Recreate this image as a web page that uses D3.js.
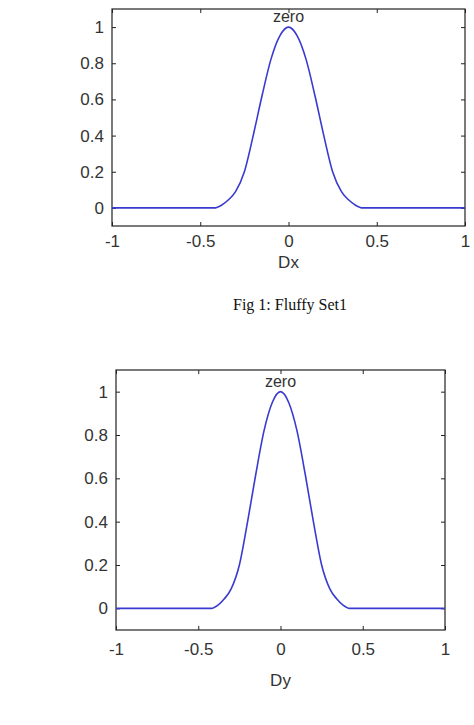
<!DOCTYPE html>
<html><head><meta charset="utf-8">
<script src="https://cdn.jsdelivr.net/npm/d3@7"></script>
<style>body{margin:0;background:#fff}</style>
</head><body>
<svg id="chart" width="474" height="725"></svg>
<script>
// membership function "zero" (same shape for Dx and Dy)
var xs = [-1, -0.42, -0.38, -0.34, -0.3, -0.25, -0.2, -0.15, -0.1, -0.05, 0, 0.05, 0.1, 0.15, 0.2, 0.25, 0.3, 0.34, 0.38, 0.42, 1];
var ys = [0, 0, 0.015, 0.045, 0.09, 0.2, 0.4, 0.62, 0.82, 0.95, 1, 0.95, 0.82, 0.62, 0.4, 0.2, 0.09, 0.045, 0.015, 0, 0];
var xTicks = [-1, -0.5, 0, 0.5, 1];
var yTicks = [0, 0.2, 0.4, 0.6, 0.8, 1];

var svg = d3.select("#chart");
var pts = xs.map(function(x, i){ return [x, ys[i]]; });
var fmt = function(d){ return String(d); };

function panel(l, r, t, b, xlabel, labY, xPad){
    var x = d3.scaleLinear().domain([-1, 1]).range([l, r]);
    var y = d3.scaleLinear().domain([-0.1, 1.1]).range([b, t]);
    var g = svg.append("g").style("font-family", "Liberation Sans, Arial, sans-serif");

    g.append("rect").attr("x", l).attr("y", t).attr("width", r - l).attr("height", b - t)
        .attr("fill", "none").attr("stroke", "#222").attr("stroke-width", 1.2);

    g.append("g").attr("transform", "translate(0," + b + ")")
        .call(d3.axisBottom(x).tickValues(xTicks).tickSize(-4).tickPadding(xPad).tickFormat(fmt));
    g.append("g").attr("transform", "translate(" + l + ",0)")
        .call(d3.axisLeft(y).tickValues(yTicks).tickSize(-4).tickPadding(8).tickFormat(fmt));
    g.append("g").attr("transform", "translate(0," + t + ")")
        .call(d3.axisTop(x).tickValues(xTicks).tickSize(-4).tickFormat(""));
    g.append("g").attr("transform", "translate(" + r + ",0)")
        .call(d3.axisRight(y).tickValues(yTicks).tickSize(-4).tickFormat(""));
    g.selectAll(".domain").remove();
    g.selectAll(".tick line").attr("stroke", "#222");
    g.selectAll(".tick text").attr("font-size", 17).attr("fill", "#333")
        .attr("font-family", "Liberation Sans, Arial, sans-serif");

    g.append("path").datum(pts)
        .attr("d", d3.line().curve(d3.curveMonotoneX).x(function(d){ return x(d[0]); }).y(function(d){ return y(d[1]); }))
        .attr("fill", "none").attr("stroke", "#3a3ad0").attr("stroke-width", 1.6);

    g.append("text").attr("x", x(0)).attr("y", y(1) - 5).attr("text-anchor", "middle")
        .attr("font-size", 16).attr("fill", "#333").text("zero");
    g.append("text").attr("x", x(0)).attr("y", labY).attr("text-anchor", "middle")
        .attr("font-size", 17).attr("fill", "#333").text(xlabel);
}

panel(112, 465, 9, 226, "Dx", 268, 9);
panel(116, 445, 370, 630, "Dy", 686, 13);

svg.append("text").attr("x", 290).attr("y", 310).attr("text-anchor", "middle")
    .attr("font-family", "Liberation Serif, Times New Roman, serif").attr("font-size", 16)
    .attr("fill", "#111").text("Fig 1: Fluffy Set1");
</script>
</body></html>
